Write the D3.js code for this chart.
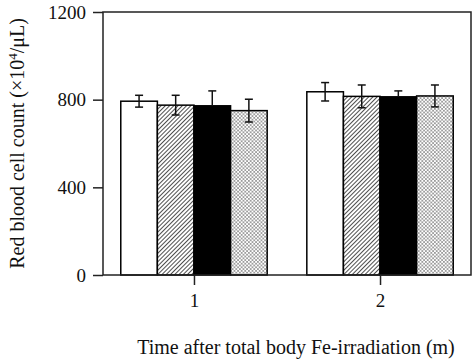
<!DOCTYPE html>
<html>
<head>
<meta charset="utf-8">
<script src="https://cdn.jsdelivr.net/npm/d3@7"></script>
<style>
body{margin:0;background:#fff;}
text{font-family:"Liberation Serif","DejaVu Serif",serif;fill:#111;}
</style>
</head>
<body>
<script>
var w=474,h=361;
var times=['1','2'];
var groups=['a','b','c','d'];
// bar means and error bars for each time point, in group order
var means={'1':[793,775,772,750],'2':[836,815,813,817]};
var errs={'1':[27,45,68,52],'2':[42,52,27,50]};
var yTicks=[0,400,800,1200];

var m={l:103,r:3,t:12,b:86};
var svg=d3.select('body').append('svg').attr('width',w).attr('height',h);

var defs=svg.append('defs');
var hatch=defs.append('pattern').attr('id','hatch').attr('patternUnits','userSpaceOnUse')
  .attr('width',3).attr('height',3).attr('patternTransform','rotate(45)');
hatch.append('rect').attr('width',3).attr('height',3).attr('fill','#fff');
hatch.append('line').attr('x1',0).attr('y1',0).attr('x2',0).attr('y2',3)
  .attr('stroke','#222').attr('stroke-width',1.6);
var dots=defs.append('pattern').attr('id','dots').attr('patternUnits','userSpaceOnUse')
  .attr('width',3.6).attr('height',3.6);
dots.append('rect').attr('width',3.6).attr('height',3.6).attr('fill','#fff');
dots.append('circle').attr('cx',0.9).attr('cy',0.9).attr('r',0.75).attr('fill','#222');
dots.append('circle').attr('cx',2.7).attr('cy',2.7).attr('r',0.75).attr('fill','#222');

var fills={a:'#fff',b:'url(#hatch)',c:'#000',d:'url(#dots)'};

var x=d3.scalePoint().domain(times).range([m.l,w-m.r]).padding(0.489);
var y=d3.scaleLinear().domain([0,1200]).range([h-m.b,m.t]);
var barW=36.6;
var sub=d3.scaleBand().domain(groups).range([-2*barW,2*barW]);

var g=svg.append('g');
times.forEach(function(t){
  var gg=g.append('g').attr('transform','translate('+x(t)+',0)');
  gg.selectAll('rect').data(groups).enter().append('rect')
    .attr('x',function(d){return sub(d);})
    .attr('y',function(d,i){return y(means[t][i]);})
    .attr('width',sub.bandwidth())
    .attr('height',function(d,i){return y(0)-y(means[t][i]);})
    .attr('fill',function(d){return fills[d];})
    .attr('stroke','#000').attr('stroke-width',1.5);
  var eb=gg.selectAll('g.eb').data(groups).enter().append('g').attr('class','eb');
  eb.each(function(d,i){
    var cx=sub(d)+sub.bandwidth()/2;
    var s=d3.select(this);
    var top=y(means[t][i]+errs[t][i]),bot=y(means[t][i]-errs[t][i]);
    s.append('line').attr('x1',cx).attr('x2',cx).attr('y1',top).attr('y2',y(means[t][i])).attr('stroke','#111').attr('stroke-width',1.5);
    s.append('line').attr('x1',cx-4).attr('x2',cx+4).attr('y1',top).attr('y2',top).attr('stroke','#111').attr('stroke-width',1.5);
    if(d!=='c'){
      s.append('line').attr('x1',cx).attr('x2',cx).attr('y1',y(means[t][i])).attr('y2',bot).attr('stroke','#111').attr('stroke-width',1.5);
      s.append('line').attr('x1',cx-4).attr('x2',cx+4).attr('y1',bot).attr('y2',bot).attr('stroke','#111').attr('stroke-width',1.5);
    }
  });
});

// frame
svg.append('rect').attr('x',m.l).attr('y',m.t).attr('width',w-m.r-m.l).attr('height',h-m.b-m.t)
  .attr('fill','none').attr('stroke','#222').attr('stroke-width',1.5);

var ya=svg.append('g').attr('transform','translate('+m.l+',0)')
  .call(d3.axisLeft(y).tickValues(yTicks).tickFormat(d3.format('d')).tickSize(10).tickPadding(7));
var xa=svg.append('g').attr('transform','translate(0,'+(h-m.b)+')')
  .call(d3.axisBottom(x).tickSize(10).tickPadding(9));
[ya,xa].forEach(function(a){
  a.select('.domain').remove();
  a.selectAll('line').attr('stroke','#222').attr('stroke-width',1.5);
  a.selectAll('text').style('font-family','"Liberation Serif",serif').style('font-size','19px').attr('fill','#111');
});

svg.append('text').attr('transform','translate(24,'+((m.t+h-m.b)/2)+') rotate(-90)')
  .attr('text-anchor','middle').style('font-size','20px')
  .html('Red blood cell count (×10<tspan dy="-7" font-size="13">4</tspan><tspan dy="7">/μL)</tspan>');
svg.append('text').attr('x',296).attr('y',354).attr('text-anchor','middle').style('font-size','20px')
  .text('Time after total body Fe-irradiation (m)');
</script>
</body>
</html>
